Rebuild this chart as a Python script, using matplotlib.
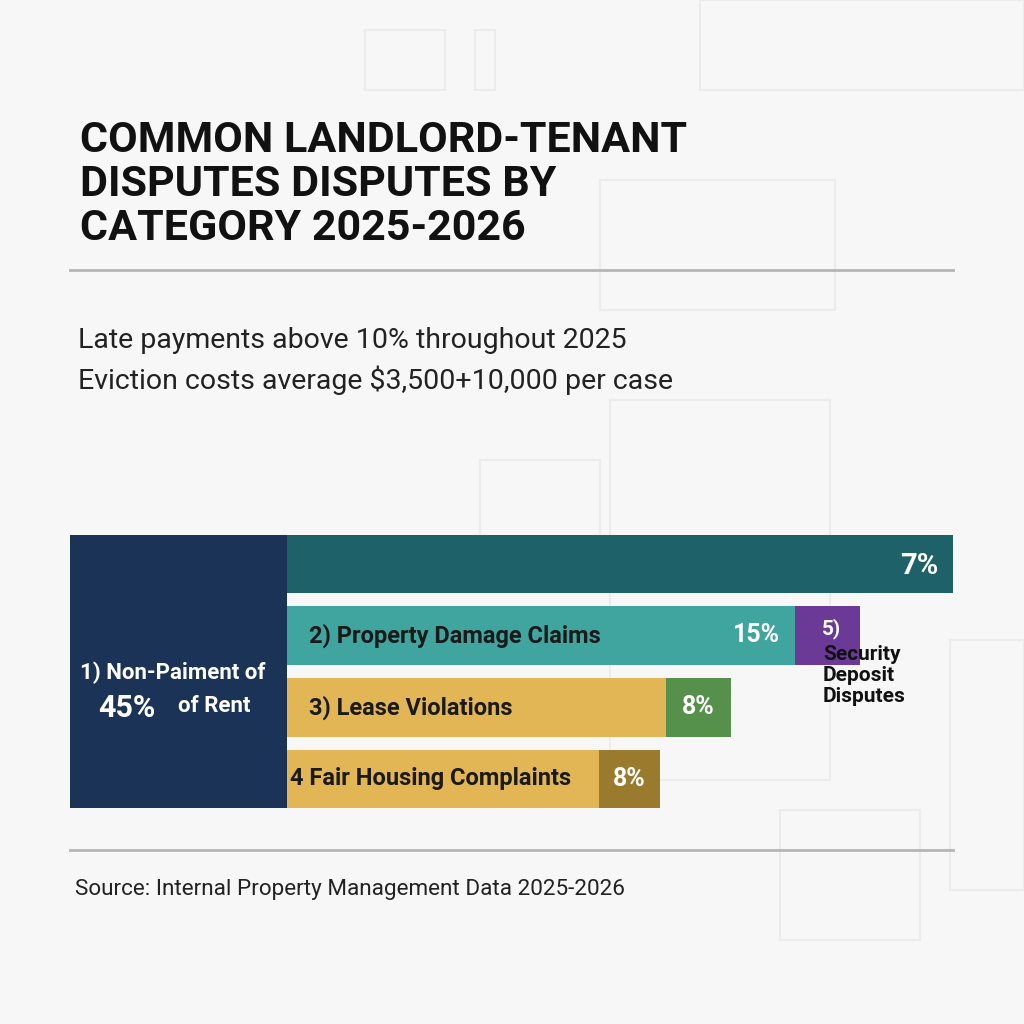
import matplotlib
matplotlib.use("Agg")
import matplotlib.pyplot as plt
from matplotlib.patches import Rectangle

plt.rcParams['font.family'] = ['Roboto', 'DejaVu Sans']

title = "COMMON LANDLORD-TENANT\nDISPUTES DISPUTES BY\nCATEGORY 2025-2026"
subtitle = ["Late payments above 10% throughout 2025", "Eviction costs average $3,500+10,000 per case"]
source = "Source: Internal Property Management Data 2025-2026"

# rows (top to bottom): main segment length, accent segment length
row_labels = ["", "2) Property Damage Claims", "3) Lease Violations", "4 Fair Housing Complaints"]
row_values = ["7%", "15%", "8%", "8%"]
row_main = [666, 508, 379, 312]
row_accent = [0, 65, 65, 61]
row_main_colors = ["#1f6169", "#41a59f", "#e3b655", "#e3b655"]
row_accent_colors = ["#1f6169", "#6a3a96", "#55914a", "#9a7a2c"]
lead_label = "1) Non-Paiment of"
lead_value = "45%"
lead_len = 217

fig = plt.figure(figsize=(10.24, 10.24), dpi=100)
fig.patch.set_facecolor("#f7f7f7")
bg = fig.add_axes([0, 0, 1, 1]); bg.set_xlim(0, 1024); bg.set_ylim(1024, 0); bg.axis("off")
for (x, y, w, h) in [(600, 180, 235, 130), (610, 400, 220, 380), (480, 460, 120, 130), (365, 30, 80, 60),
                     (475, 30, 20, 60), (700, 0, 324, 90), (780, 810, 140, 130), (950, 640, 74, 250)]:
    bg.add_patch(Rectangle((x, y), w, h, fill=False, ec="#ececec", lw=1.5))
bg.text(80, 120, title, fontsize=31, fontweight="bold", va="top", color="#111111", linespacing=1.1)
bg.plot([70, 953], [270, 270], color="#b5b5b5", lw=2)
bg.text(78, 340, subtitle[0], fontsize=20.5, va="center", color="#222222")
bg.text(78, 380, subtitle[1], fontsize=20.5, va="center", color="#222222")
bg.plot([70, 953], [850, 850], color="#b5b5b5", lw=2)
bg.text(75, 890, source, fontsize=16.2, va="center", color="#222222")

ax = fig.add_axes([70/1024, 1-808/1024, 883/1024, 273/1024])
ax.set_xlim(0, 883); ax.set_ylim(808, 535); ax.axis("off")
ax.barh([671.5], [lead_len], height=273, left=0, color="#1b3357")
centers = [564, 635.5, 707.5, 779]
heights = [58, 59, 59, 58]
for i in range(4):
    ax.barh(centers[i], row_main[i], height=heights[i], left=lead_len, color=row_main_colors[i])
    if row_accent[i]:
        ax.barh(centers[i], row_accent[i], height=heights[i], left=lead_len+row_main[i], color=row_accent_colors[i])
fs = 17
ax.text(lead_len+row_main[0]-15, centers[0]+2, row_values[0], color="white", fontsize=21, fontweight="bold", ha="right", va="center")
ax.text(lead_len+22, centers[1], row_labels[1], color="#1a1a1a", fontsize=fs, fontweight="bold", va="center")
ax.text(lead_len+row_main[1]-15, centers[1], row_values[1], color="white", fontsize=fs+1, fontweight="bold", ha="right", va="center")
ax.text(lead_len+row_main[1]+27, 629, "5)", color="white", fontsize=15, fontweight="bold", va="center")
ax.text(lead_len+row_main[1]+28, 645, "Security\nDeposit\nDisputes", color="#111111", fontsize=15, fontweight="bold", va="top", linespacing=1.15)
ax.text(lead_len+22, centers[2], row_labels[2], color="#1a1a1a", fontsize=fs, fontweight="bold", va="center")
ax.text(lead_len+row_main[2]+row_accent[2]/2, centers[2], row_values[2], color="white", fontsize=fs+1, fontweight="bold", ha="center", va="center")
ax.text(lead_len+3, centers[3], row_labels[3], color="#1a1a1a", fontsize=fs, fontweight="bold", va="center")
ax.text(lead_len+row_main[3]+row_accent[3]/2, centers[3], row_values[3], color="white", fontsize=fs+1, fontweight="bold", ha="center", va="center")
ax.text(10, 673, lead_label, color="white", fontsize=16, fontweight="bold", va="center")
ax.text(28, 708, lead_value, color="white", fontsize=22, fontweight="bold", va="center")
ax.text(108, 706, "of Rent", color="white", fontsize=16, fontweight="bold", va="center")
fig.savefig("out.png", dpi=100, facecolor=fig.get_facecolor())
